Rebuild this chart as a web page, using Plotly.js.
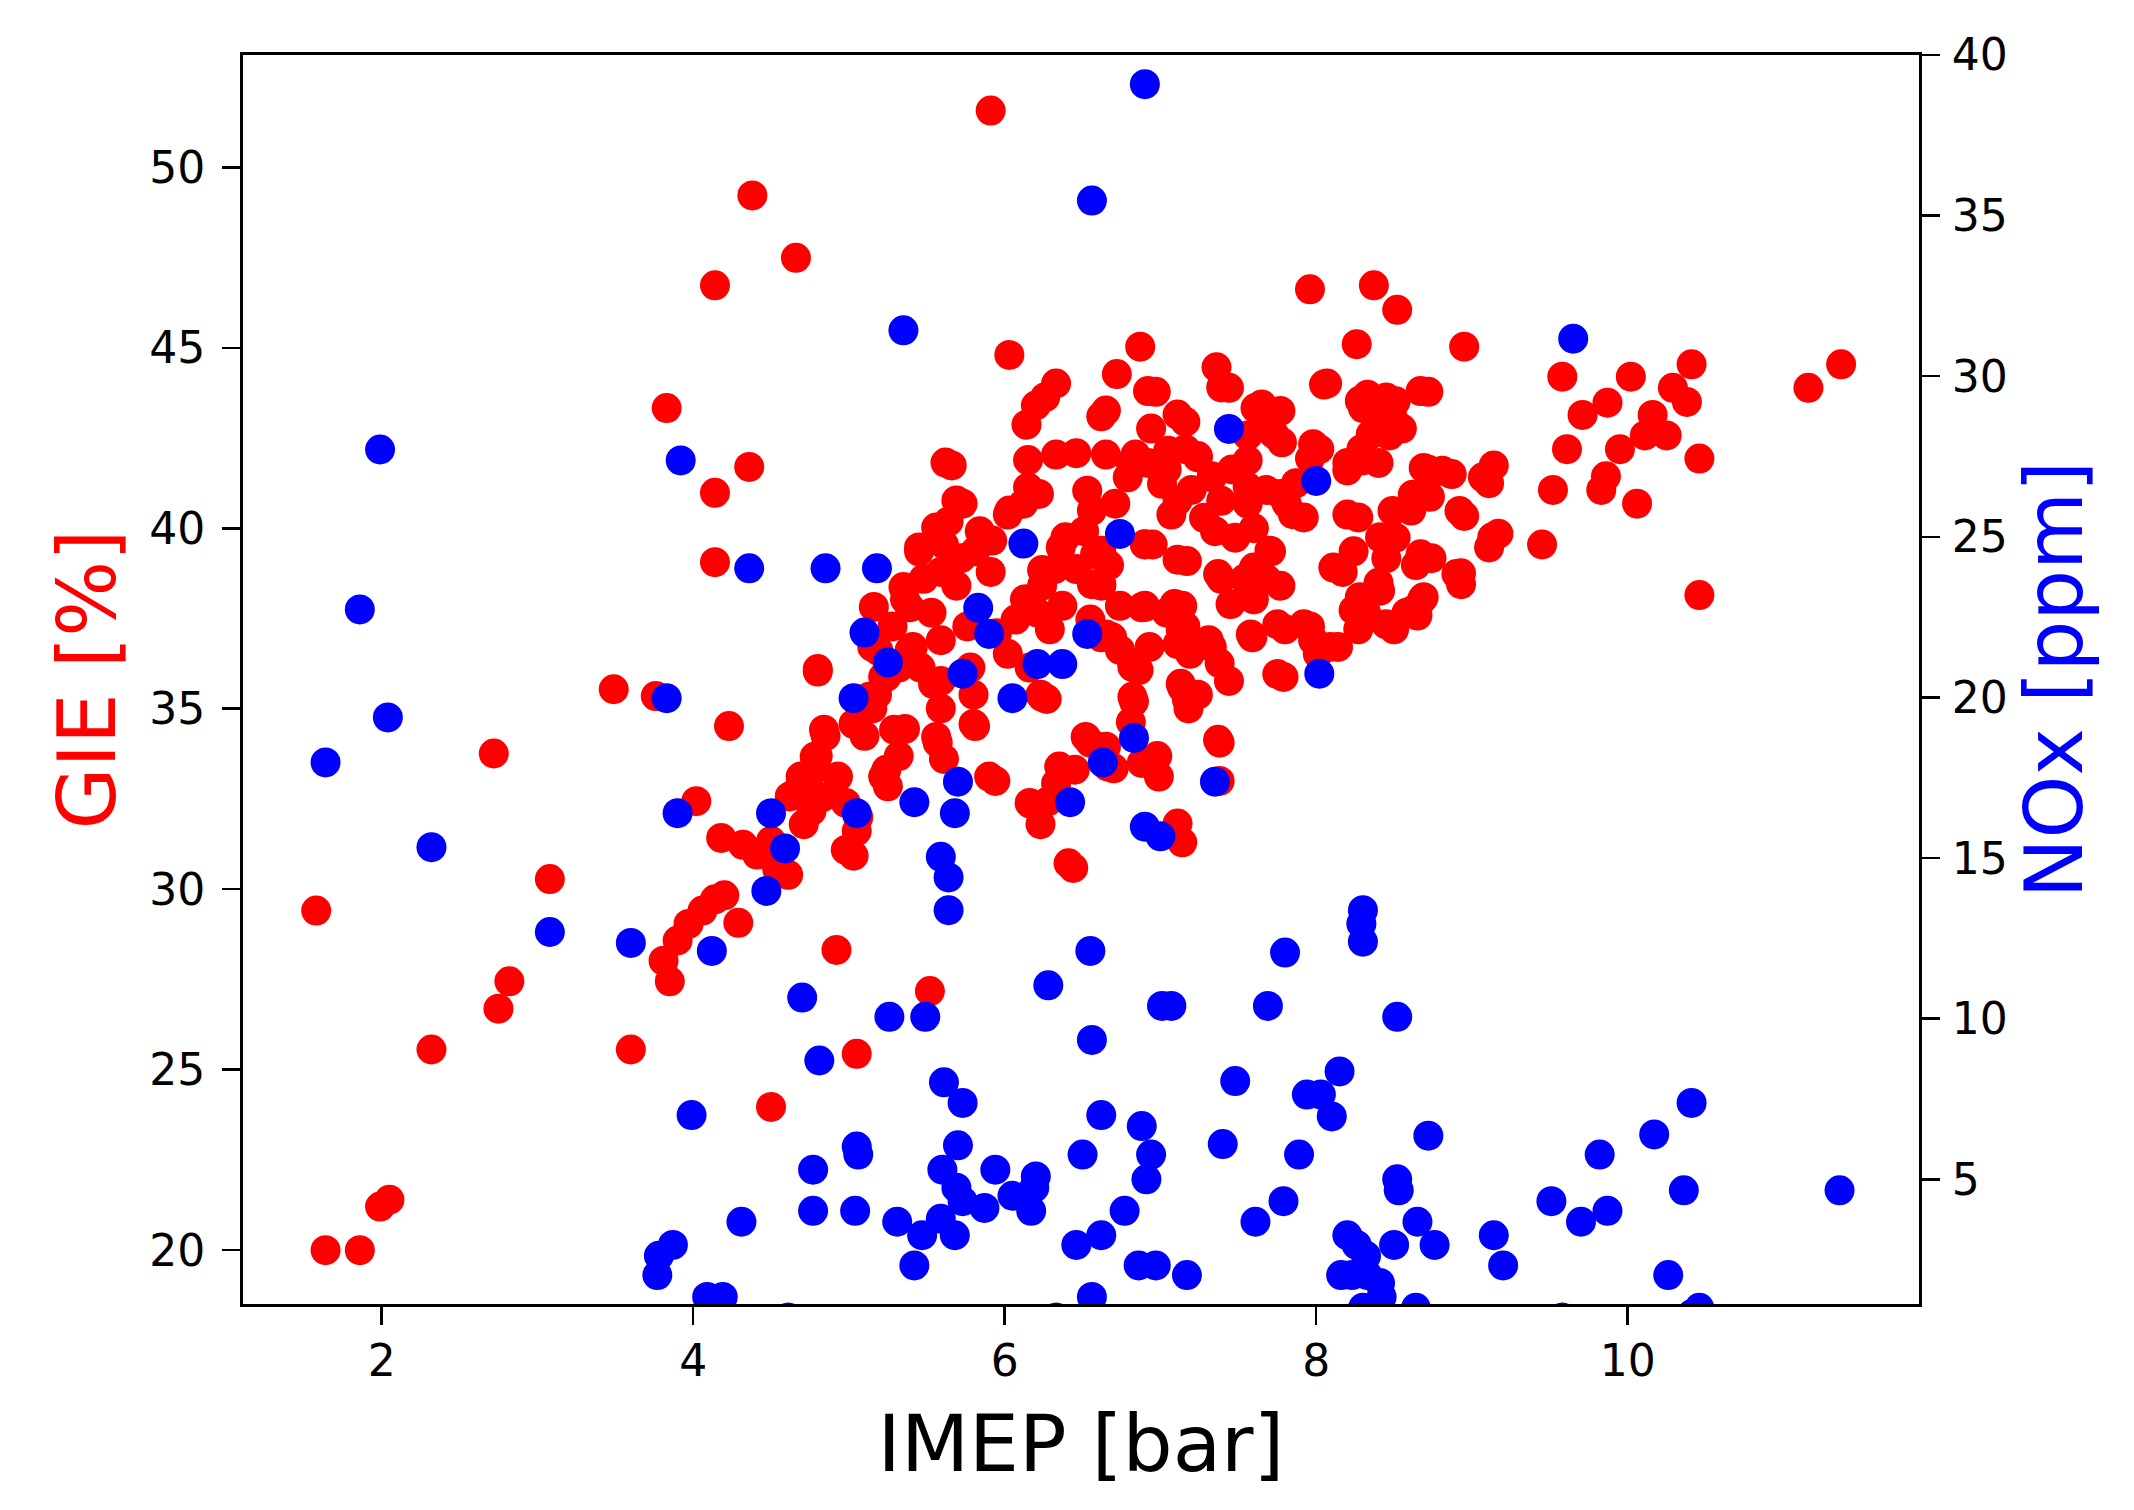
<!DOCTYPE html>
<html>
<head>
<meta charset="utf-8">
<script src="https://cdn.plot.ly/plotly-3.0.1.min.js"></script>
<style>html,body{margin:0;padding:0;background:#fff}#chart{width:2134px;height:1510px}</style>
</head>
<body>
<div id="chart"></div>
<script>
// GIE [%] vs IMEP [bar] (red, left axis)
const gieImep = [
1.64,1.86,1.58,1.99,2.05,2.32,2.72,2.75,2.82,3.08,3.49,3.6,3.76,3.83,3.81,3.85,3.9,3.97,4.06,4.14,4.2,4.29,4.02,4.14,4.14,4.14,4.36,4.38,4.23,4.18,4.32,4.41,4.5,4.61,4.66,4.5,4.8,4.92,5.05,5.03,5.05,4.67,4.76,4.8,4.85,5.05,5.12,5.18,5.24,5.15,5.28,5.39,4.93,4.83,4.76,4.71,5.06,5.52,
5.62,5.69,5.45,5.56,6.15,6.03,6.33,6.53,6.39,6.58,6.56,6.9,6.88,6.24,6.62,6.82,6.82,6.94,6.52,6.24,5.35,5.16,5.39,5.22,5.13,5.03,4.84,4.78,4.69,4.62,5.29,5.22,5.54,5.56,5.8,5.9,6.16,6.35,6.67,6.41,4.98,4.98,4.54,4.8,6.23,
6.92,7.39,8.05,8.28,8.45,8.67,8.49,8.35,8.3,8.2,7.98,7.77,7.65,7.73,7.56,7.77,7.85,7.56,7.33,7.24,7.11,7.05,6.84,6.65,6.65,6.79,7.01,7.11,7.28,7.39,6.71,6.9,7.11,6.62,6.62,7.6,7.7,7.6,7.37,7.45,6.9,7.09,7.13,7.11,6.65,7.33,6.82,7.13,7.17,7.37,6.94,6.66,7.11,7.58,7.75,7.92,7.98,8.09,7.75,8.24,8.45,8.62,8.69,8.41,8.28,8.11,8.2,8.41,8.49,8.62,8.69,8.81,9.07,8.92,9.13,8.9,8.67,
5.91,6.03,6.87,7.96,8.37,8.52,8.26,8.95,7.36,7.44,9.58,10.02,10.41,11.37,11.16,10.29,10.38,9.87,9.71,10.16,10.11,10.25,9.95,10.46,9.61,9.52,9.86,9.83,10.06,9.11,9.14,8.87,8.95,8.72,9.17,9.11,9.45,8.93,8.93,10.46,8.07,8.3,
8.33,8.42,8.51,8.38,8.47,8.55,8.2,8.29,8.4,8.02,8.27,8.24,8.17,8.51,8.61,8.73,8.72,8.45,8.64,8.74,8.68,8.58,8.5,8.32,8.27,8.65,8.4,8.14,8.01,7.8,7.79,7.96,7.59,
6.15,6.14,6.2,6.26,6.33,6.46,6.62,6.72,6.97,7.16,7.16,6.81,6.92,7.04,7.24,7.61,7.69,7.78,7.56,
5.66,5.73,6.02,6.12,6.22,5.84,5.92,5.81,5.72,5.61,5.64,5.59,5.45,5.48,5.36,5.69,5.91,6.13,6.24,6.32,6.36,6.51,6.56,6.46,6.62,6.67,6.74,6.55,6.37,6.21,6.07,5.95,6.02,6.16,6.29,5.76,5.53,5.59,5.41,5.32,5.46,5.78,5.8,6.27,6.69,6.74,6.9,6.93,7.04,7.16,7.19,7.31,7.38,7.44,7.24,7.18,7.14,6.86,6.83,6.81,6.88,6.98,6.99,6.7,6.65,6.55,6.45,6.33,6.28,6.17,6.23,6.44,7.14,7.38,7.38,5.81,5.94,5.59,5.59,5.57,5.61,5.36,5.32,5.24,5.25,5.1,5.15,5.19,7.07,6.95,7.17,7.14,7.35,7.48,7.39,7.54,7.68,7.6,7.71,7.77,7.56,7.68,7.81,7.92,7.87,7.96,7.33,7.46,7.2,6.94
];
const gieValue = [
20.0,20.0,29.41,21.21,21.4,25.56,33.76,26.69,27.45,30.28,35.54,25.56,35.35,43.33,28.02,27.45,28.58,29.04,29.41,29.72,29.83,29.07,32.44,40.98,39.06,46.73,41.70,49.22,34.52,31.42,31.23,30.96,31.34,30.40,47.49,23.97,36.03,28.32,25.44,30.93,31.61,32.74,33.23,33.69,34.25,34.63,35.0,35.39,35.88,36.71,37.28,37.81,33.12,32.55,32.17,31.8,31.99,27.18,
41.82,40.77,39.47,40.02,41.13,40.49,42.04,41.04,39.75,39.28,38.45,39.55,37.81,38.84,36.98,36.16,35.33,33.58,34.22,35.33,38.37,37.82,36.62,35.88,35.33,34.58,34.42,33.67,33.12,32.57,34.42,33.12,35.69,34.22,34.58,33.12,32.39,33.4,33.4,30.72,32.39,31.09,30.55,36.1,35.39,
43.8,43.9,43.98,43.53,43.62,43.8,43.07,42.6,41.88,41.6,42.33,43.25,43.43,42.6,41.88,40.95,40.39,41.14,41.41,41.96,43.15,42.15,42.04,42.04,43.26,41.41,41.23,40.76,40.29,40.76,40.68,39.56,39.13,39.38,38.45,40.0,39.38,38.91,38.73,37.9,37.82,37.9,37.18,36.79,37.06,36.71,36.24,35.69,35.25,34.14,33.48,33.4,31.82,37.06,37.34,37.34,36.9,36.71,35.96,37.73,37.34,37.73,38.09,38.27,38.09,38.91,40.38,39.75,40.48,40.93,41.67,41.59,41.41,40.48,39.75,38.73,39.28,
51.57,44.8,45.03,46.62,46.73,46.05,45.1,45.03,44.46,43.89,44.2,44.2,44.54,44.54,43.89,43.89,43.5,43.48,43.14,43.14,42.57,42.57,42.19,41.93,42.19,41.06,41.44,41.06,40.68,41.25,41.74,41.5,40.34,43.78,39.85,39.47,39.55,38.75,38.45,38.15,44.01,43.33,
43.7,43.33,43.52,42.76,42.57,42.76,41.81,42.19,41.81,42.19,40.3,39.36,38.79,39.74,40.49,40.87,41.62,39.17,38.98,39.17,38.03,37.66,37.2,37.66,37.2,37.58,38.49,36.71,36.52,37.2,35.88,37.28,36.98,
41.89,42.87,43.4,43.63,44.01,42.08,43.1,44.27,43.78,42.95,42.19,41.81,41.81,41.63,42.0,43.33,43.02,42.38,42.57,
41.74,40.68,40.38,40.68,40.95,39.92,39.66,39.36,39.17,39.55,40.19,38.79,39.36,38.6,38.03,38.41,38.79,38.03,38.41,38.87,39.47,39.92,40.49,38.87,38.41,38.98,37.85,37.47,37.85,37.66,37.47,37.09,36.52,36.14,37.2,37.28,37.66,36.9,36.71,36.14,36.14,36.14,35.39,35.27,36.98,36.63,37.85,36.71,37.66,37.28,36.52,36.9,36.26,35.77,35.39,35.01,35.58,36.07,35.2,34.63,33.5,33.69,33.12,33.35,33.95,34.06,33.31,32.93,32.44,32.36,31.8,30.59,31.3,34.06,33.0,34.52,33.0,35.77,35.01,34.06,33.61,34.44,33.69,33.31,32.85,34.25,35.01,36.6,40.38,39.55,39.09,37.85,39.92,39.74,38.6,38.6,38.6,38.03,39.36,38.41,40.68,41.06,40.68,40.3,41.25,41.93,41.44,41.63,41.06,42.76
];

// NOx [ppm] vs IMEP [bar] (blue, right axis)
const noxImep = [
6.90,6.56,5.35,9.65,7.44,1.99,3.92,8.0,6.12,6.74,4.36,4.85,5.18,1.86,5.83,5.9,5.1,6.53,5.25,6.21,6.37,5.73,8.02,6.05,5.03,3.83,2.04,1.64,6.83,6.63,7.35,5.7,5.42,6.42,3.9,4.5,5.05,5.68,6.9,7.0,2.32,4.59,5.59,5.64,4.47,5.64,8.3,8.29,3.08,3.6,4.12,6.55,7.8,8.3,6.28,4.7,7.01,7.07,7.69,5.26,5.49,8.52,6.56,4.81,5.61,7.48,8.15,5.73,7.94,8.03,8.1,10.41,3.99,6.62,6.88,10.17,8.72,7.4,5.05,5.06,5.7,6.94,9.82,7.89,6.5,4.77,5.6,5.94,6.91,8.52,8.53,11.36,10.36,5.69,6.19,6.2,6.05,5.87,5.73,9.51,7.79,4.77,5.04,6.17,9.87,9.7,8.65,6.77,7.61,5.31,4.31,5.59,5.68,5.47,9.14,8.2,6.62,3.87,8.76,8.5,6.46,3.78,8.32,8.26,5.42,6.86,6.97,9.2,3.77,7.17,8.16,8.33,10.26,8.41,8.23,4.09,4.19,6.56,8.64,10.46,10.41,4.61,6.33,8.3,9.58,8.42
];
const noxValue = [
39.09,35.47,31.43,31.17,28.36,27.72,27.38,26.74,24.79,25.09,24.02,24.02,24.02,22.74,22.79,21.98,22.02,21.98,21.09,21.04,21.04,20.74,20.74,19.98,19.98,19.98,19.38,17.98,18.74,17.98,17.38,17.38,16.74,16.74,16.40,16.40,16.40,16.40,15.98,15.68,15.34,15.30,15.04,14.40,13.98,13.38,13.38,12.96,12.70,12.36,12.11,12.11,12.06,12.4,11.04,10.66,10.40,10.40,10.40,10.06,10.06,10.06,9.34,8.70,8.02,8.06,8.36,7.38,7.64,7.64,6.96,7.38,7.0,7.0,6.66,6.40,6.36,6.1,6.02,5.77,6.06,5.77,5.77,5.77,5.77,5.30,5.30,5.30,5.0,5.0,4.66,4.66,4.66,4.74,4.74,5.09,4.49,4.11,4.32,4.32,4.32,4.02,4.02,4.02,4.02,3.68,3.68,4.02,3.68,3.68,3.68,3.77,3.26,3.26,3.26,3.26,3.26,2.96,2.96,2.96,2.96,2.62,2.62,2.96,2.32,2.32,2.32,2.32,2.02,2.02,2.02,2.02,2.02,1.77,2.02,1.34,1.34,1.34,1.0,1.0,0.8,0.7,0.7,1.0,0.7,1.34
];

const xTicks = [2, 4, 6, 8, 10];
const gieTicks = [20, 25, 30, 35, 40, 45, 50];
const noxTicks = [5, 10, 15, 20, 25, 30, 35, 40];

const FONT = 'DejaVu Sans, sans-serif';
const tickFont = {family: FONT, size: 44, color: '#000000'};
const axisCommon = {
  ticks: 'outside', ticklen: 18, tickwidth: 2.5, tickcolor: '#000000',
  showline: true, linewidth: 3, linecolor: '#000000',
  showgrid: false, zeroline: false, tickfont: tickFont, automargin: false
};

const traces = [
  {x: gieImep, y: gieValue, type: 'scatter', mode: 'markers', name: 'GIE',
   marker: {color: '#ff0000', size: 30, line: {width: 0}}, yaxis: 'y', hoverinfo: 'x+y'},
  {x: noxImep, y: noxValue, type: 'scatter', mode: 'markers', name: 'NOx',
   marker: {color: '#0000ff', size: 30, line: {width: 0}}, yaxis: 'y2', hoverinfo: 'x+y'}
];

const layout = {
  width: 2134, height: 1510,
  margin: {l: 243, r: 215, t: 55, b: 206, pad: 0},
  paper_bgcolor: '#ffffff', plot_bgcolor: '#ffffff',
  showlegend: false,
  xaxis: Object.assign({}, axisCommon, {
    range: [1.11, 11.87], tickvals: xTicks, ticktext: xTicks.map(String), mirror: true,
    ticklabelstandoff: -2,
    title: {text: 'IMEP [bar]', font: {family: FONT, size: 79, color: '#000000'}, standoff: 31}
  }),
  yaxis: Object.assign({}, axisCommon, {
    range: [18.51, 53.11], tickvals: gieTicks, ticktext: gieTicks.map(String),
    ticklabelstandoff: 8,
    title: {text: 'GIE [%]', font: {family: FONT, size: 80, color: '#ff0000'}, standoff: 8}
  }),
  yaxis2: Object.assign({}, axisCommon, {
    range: [1.12, 40.0], tickvals: noxTicks, ticktext: noxTicks.map(String),
    overlaying: 'y', side: 'right', ticklabelstandoff: 3,
    title: {text: 'NOx [ppm]', font: {family: FONT, size: 80, color: '#0000ff'}, standoff: 19}
  })
};

Plotly.newPlot('chart', traces, layout, {displayModeBar: false, staticPlot: true});
</script>
</body>
</html>
